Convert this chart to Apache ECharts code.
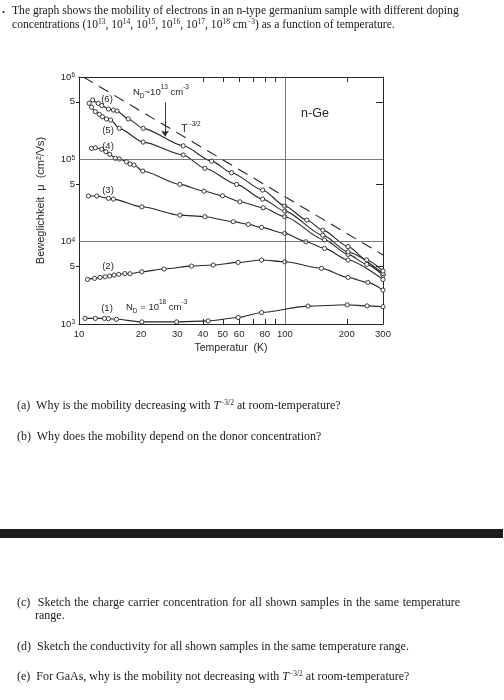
<!DOCTYPE html>
<html>
<head>
<meta charset="utf-8">
<script src="https://cdn.jsdelivr.net/npm/echarts@6/dist/echarts.min.js"></script>
<style>
html, body { margin: 0; padding: 0; background: #fff; }
#page { position: relative; width: 504px; height: 700px; overflow: hidden; }
#chart { position: absolute; left: 0; top: 0; width: 504px; height: 700px; }
.t { position: absolute; white-space: nowrap; font-family: "Liberation Serif", "DejaVu Serif", serif;
     font-size: 11.6px; line-height: 14px; color: #1a1a1a; }
.q { font-size: 12px; }
.t sup { font-size: 7.5px; vertical-align: 4px; line-height: 0; }
.just { text-align: justify; text-align-last: justify; white-space: normal; }
#bar { position: absolute; left: 0; top: 529px; width: 503px; height: 9px; background: #1c1c1c; }
</style>
</head>
<body>
<div id="page">
  <div id="chart"></div>
  <div class="t" style="left:2px;top:3px;font-weight:bold">.</div>
  <div class="t" style="left:12px;top:4px">The graph shows the mobility of electrons in an n-type germanium sample with different doping</div>
  <div class="t" style="left:12px;top:18px">concentrations (10<sup>13</sup>, 10<sup>14</sup>, 10<sup>15</sup>, 10<sup>16</sup>, 10<sup>17</sup>, 10<sup>18</sup> cm<sup>−3</sup>) as a function of temperature.</div>

  <div class="t q" style="left:17px;top:398px">(a)&nbsp; Why is the mobility decreasing with <i>T</i><sup>−3/2</sup> at room-temperature?</div>
  <div class="t q" style="left:17px;top:429px">(b)&nbsp; Why does the mobility depend on the donor concentration?</div>

  <div id="bar"></div>

  <div class="t q just" style="left:17px;top:595px;width:443px">(c)&nbsp; Sketch the charge carrier concentration for all shown samples in the same temperature</div>
  <div class="t q" style="left:35px;top:608px">range.</div>
  <div class="t q" style="left:17px;top:639px">(d)&nbsp; Sketch the conductivity for all shown samples in the same temperature range.</div>
  <div class="t q" style="left:17px;top:669px">(e)&nbsp; For GaAs, why is the mobility not decreasing with <i>T</i><sup>−3/2</sup> at room-temperature?</div>
</div>

<script>
// mobility curves, [T in K, mu in cm^2/Vs]
const curve1 = [[10.7,1170],[12.0,1170],[13.3,1170],[13.9,1160],[15.2,1140],[20.2,1060],[29.8,1060],
  [42.4,1090],[59.3,1200],[77.1,1380],[129.7,1650],[201,1710],[251,1660],[300,1620]];
const curve2 = [[11.0,3480],[11.9,3580],[12.65,3680],[13.4,3750],[14.1,3820],[14.8,3930],[15.6,4000],
  [16.7,4100],[17.7,4080],[20.2,4310],[25.9,4650],[35.2,5050],[44.9,5200],[59.3,5600],[77.1,5980],
  [100,5700],[150.7,4740],[203,3680],[253,3200],[300,2580]];
const curve3 = [[11.1,35800],[12.2,35800],[13.9,33600],[14.7,32900],[20.2,26500],[30.9,21000],[40.9,20100],
  [56.1,17500],[66.4,16200],[77.1,14900],[100,12600],[126.5,9970],[156,8290],[203,5980],[300,3480]];
const curve4 = [[11.5,136000],[12.0,138000],[12.9,133000],[13.5,124000],[14.1,115000],[15.0,103000],
  [15.7,101000],[17.0,93500],[17.7,87700],[18.5,85300],[20.4,72100],[30.9,49700],[40.5,41000],
  [49.8,36100],[60.5,30500],[78.5,25800],[100,20100],[156,10500],[203,7000],[250,5300],[300,3900]];
const curve5 = [[11.2,480000],[11.5,430000],[12.0,379000],[12.55,352000],[13.0,329000],[13.6,309000],
  [14.25,300000],[15.7,238000],[20.5,162000],[32.1,113000],[40.9,77800],[58.3,49700],[78,32900],
  [100,23500],[153,12000],[203,7500],[300,4100]];
const curve6 = [[11.65,525000],[12.4,479000],[12.9,450000],[13.9,409000],[14.7,397000],[15.3,386000],
  [17.35,309000],[20.5,238000],[32.1,146000],[44.1,95000],[55.1,68800],[78,42400],[100,27100],
  [128,18300],[153,13800],[203,8700],[250,6000],[300,4400]];
// T^-3/2 guide line end points
const guideLine = [[10.5,1000000],[300,6900]];
// arrow pointing at the N_D ~ 1e13 curve
const arrowPts = [[26.2,490000],[26.2,190000]];

const gridMu = [1e4, 1e5];
const gridT = [100];
const xLabels = [10,20,30,40,50,60,80,100,200,300];
const xMinor = [40,50,60,70,80,90,200];
const yLabels = [1e3,5e3,1e4,5e4,1e5,5e5,1e6];
const yMinor = [5e3,5e4,5e5];

const ink = '#262626';
const sans = 'Liberation Sans';

const chart = echarts.init(document.getElementById('chart'));

function curve(name, data) {
  return {
    name: name, type: 'line', data: data,
    smooth: 0.25, smoothMonotone: 'x',
    symbol: 'circle', symbolSize: 4.2, showAllSymbol: true,
    lineStyle: { color: ink, width: 1.1 },
    itemStyle: { color: '#fff', borderColor: ink, borderWidth: 0.9 },
    silent: true, z: 3
  };
}

const supRich = {
  b: { fontSize: 9.5, fontFamily: sans, color: ink, lineHeight: 10, verticalAlign: 'bottom' },
  s: { fontSize: 6.5, fontFamily: sans, color: ink, lineHeight: 7, verticalAlign: 'top' }
};

function yFmt(v) {
  const e = Math.round(Math.log10(v));
  if (Math.abs(v - Math.pow(10, e)) < 1e-6 * v) return '{b|10}{s|' + e + '}';
  return '{b|5}';
}

const noteRich = {
  n: { fontSize: 9.5, fontFamily: sans, fill: ink, color: ink, lineHeight: 16, verticalAlign: 'middle' },
  t: { fontSize: 11, fontFamily: sans, fill: ink, color: ink, lineHeight: 16, verticalAlign: 'middle' },
  u: { fontSize: 6.5, fontFamily: sans, fill: ink, color: ink, lineHeight: 8, verticalAlign: 'top' },
  d: { fontSize: 6.5, fontFamily: sans, fill: ink, color: ink, lineHeight: 8, verticalAlign: 'bottom' }
};

function note(x, y, text, align, size) {
  return {
    type: 'text', x: x, y: y, silent: true, z: 10,
    style: {
      text: text, fill: ink, font: (size || 9.5) + 'px ' + sans,
      align: align || 'center', textAlign: align || 'center',
      verticalAlign: 'middle', textVerticalAlign: 'middle', rich: noteRich
    }
  };
}

const option = {
  animation: false,
  grid: { left: 79, top: 77, width: 304, height: 247, containLabel: false },
  xAxis: [{
    type: 'log', logBase: 10, min: 10, max: 300, position: 'bottom',
    axisLine: { show: true, onZero: false, lineStyle: { color: ink, width: 1 } },
    axisTick: { show: true, inside: true, length: 5, customValues: xMinor, lineStyle: { color: ink } },
    axisLabel: { show: true, customValues: xLabels, margin: 5, color: ink, fontSize: 9.5, fontFamily: sans },
    splitLine: { show: false }, minorTick: { show: false },
    name: 'Temperatur  (K)', nameLocation: 'middle', nameGap: 19,
    nameTextStyle: { color: ink, fontSize: 10.5, fontFamily: sans }
  }, {
    type: 'log', logBase: 10, min: 10, max: 300, position: 'top',
    axisLine: { show: true, onZero: false, lineStyle: { color: ink, width: 1 } },
    axisTick: { show: true, inside: true, length: 5, customValues: xMinor, lineStyle: { color: ink } },
    axisLabel: { show: false }, splitLine: { show: false }
  }],
  yAxis: [{
    type: 'log', logBase: 10, min: 1e3, max: 1e6, position: 'left',
    axisLine: { show: true, onZero: false, lineStyle: { color: ink, width: 1 } },
    axisTick: { show: true, inside: false, length: 3, customValues: yMinor, lineStyle: { color: ink } },
    axisLabel: { show: true, customValues: yLabels, margin: 4, formatter: yFmt, rich: supRich },
    splitLine: { show: false },
    name: 'Beweglichkeit  μ  (cm²/Vs)', nameLocation: 'middle', nameRotate: 90, nameGap: 33,
    nameTextStyle: { color: ink, fontSize: 11, fontFamily: sans }
  }, {
    type: 'log', logBase: 10, min: 1e3, max: 1e6, position: 'right',
    axisLine: { show: true, onZero: false, lineStyle: { color: ink, width: 1 } },
    axisTick: { show: true, inside: true, length: 7, customValues: yMinor, lineStyle: { color: ink } },
    axisLabel: { show: false }, splitLine: { show: false }
  }],
  series: [
    {
      name: 'T^-3/2', type: 'line', data: guideLine, symbol: 'none', silent: true, z: 2,
      lineStyle: { color: ink, width: 1.1, type: [11, 7] },
      markLine: {
        silent: true, symbol: ['none', 'none'], label: { show: false },
        lineStyle: { color: '#555', width: 0.8, type: 'solid' },
        data: gridMu.map(v => ({ yAxis: v })).concat(gridT.map(v => ({ xAxis: v })))
      }
    },
    {
      name: 'arrow', type: 'line', data: [], symbol: 'none', silent: true,
      markLine: {
        silent: true, symbol: ['none', 'arrow'], symbolSize: 6, label: { show: false },
        lineStyle: { color: ink, width: 0.9, type: 'solid' },
        data: [[{ coord: arrowPts[0] }, { coord: arrowPts[1] }]]
      }
    },
    curve('(1)', curve1),
    curve('(2)', curve2),
    curve('(3)', curve3),
    curve('(4)', curve4),
    curve('(5)', curve5),
    curve('(6)', curve6)
  ],
  graphic: [
    note(107, 99, '(6)'),
    note(108, 130, '(5)'),
    note(108, 146, '(4)'),
    note(108, 190, '(3)'),
    note(108, 266, '(2)'),
    note(107, 308, '(1)'),
    note(133, 92, '{n|N}{d|D}{n|~10}{u|13}{n| cm}{u|-3}', 'left'),
    note(181, 129, '{t|T}{u| -3/2}', 'left'),
    note(126, 307, '{n|N}{d|D}{n| = 10}{u|18}{n| cm}{u|-3}', 'left'),
    note(315, 114, 'n-Ge', 'center', 12.5)
  ]
};

chart.setOption(option);
</script>
</body>
</html>
